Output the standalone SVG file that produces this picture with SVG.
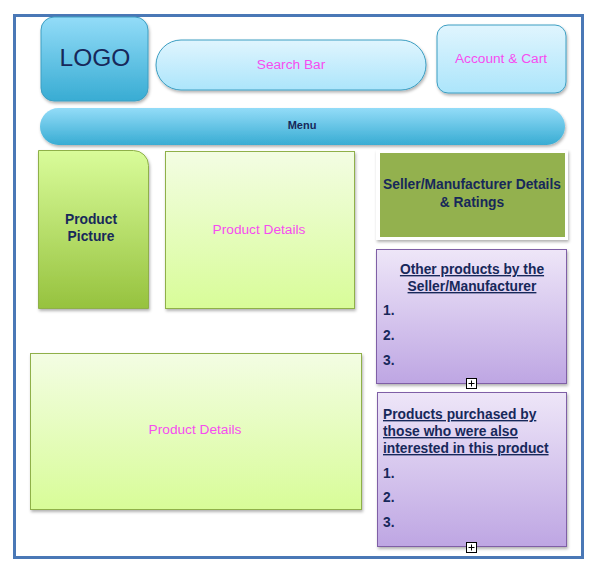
<svg xmlns="http://www.w3.org/2000/svg" width="602" height="569" viewBox="0 0 602 569">
<defs>
<linearGradient id="blue" x1="0" y1="0" x2="0" y2="1"><stop offset="0" stop-color="#93dcf8"/><stop offset="1" stop-color="#38acd3"/></linearGradient>
<linearGradient id="lblue" x1="0" y1="0" x2="0" y2="1"><stop offset="0" stop-color="#e0f5fe"/><stop offset="1" stop-color="#ace5fb"/></linearGradient>
<linearGradient id="green" x1="0" y1="0" x2="0" y2="1"><stop offset="0" stop-color="#d9fc9a"/><stop offset="1" stop-color="#96c23e"/></linearGradient>
<linearGradient id="lgreen" x1="0" y1="0" x2="0" y2="1"><stop offset="0" stop-color="#f3fde3"/><stop offset="1" stop-color="#d8fc98"/></linearGradient>
<linearGradient id="purple" x1="0" y1="0" x2="0" y2="1"><stop offset="0" stop-color="#eee6f8"/><stop offset="1" stop-color="#bea6e3"/></linearGradient>
<filter id="sh" x="-10%" y="-10%" width="125%" height="130%"><feDropShadow dx="1" dy="2" stdDeviation="1.5" flood-color="#000" flood-opacity="0.3"/></filter>
</defs>
<style>
.t{font-family:"Liberation Sans",Arial,sans-serif}
.mag{fill:#f64cf0;font-size:13.7px;text-anchor:middle}
.dk{fill:#17285a;font-weight:bold;font-size:13.8px}
.c{text-anchor:middle}
.bs{stroke:#3c9ec2;stroke-width:1}
.gs{stroke:#8fb04a;stroke-width:1}
.ps{stroke:#7f5fa6;stroke-width:1}
</style>
<rect x="14.5" y="15.5" width="568" height="542" fill="#fff" stroke="#4a78b6" stroke-width="3"/>
<g id="logo"><rect x="41" y="17" width="107" height="84" rx="13" fill="url(#blue)" class="bs" filter="url(#sh)"/><text class="t" x="95" y="66" font-size="24.5" fill="#17285a" text-anchor="middle">LOGO</text></g>
<g id="search"><rect x="156" y="40" width="270" height="50" rx="25" fill="url(#lblue)" class="bs" filter="url(#sh)"/><text class="t mag" x="291" y="69">Search Bar</text></g>
<g id="account"><rect x="437" y="25" width="129" height="68" rx="11" fill="url(#lblue)" class="bs" filter="url(#sh)"/><text class="t mag" x="501" y="63">Account &amp; Cart</text></g>
<g id="menu"><rect x="40" y="108" width="525" height="37" rx="18.5" fill="url(#blue)" filter="url(#sh)"/><text class="t c" x="302" y="129" font-size="11" font-weight="bold" fill="#17285a">Menu</text></g>
<g id="picture"><path d="M38.5,150.5 H133.5 A15,15 0 0 1 148.5,165.5 V308.5 H38.5 Z" fill="url(#green)" class="gs" filter="url(#sh)"/><text class="t dk c" x="91" y="224">Product</text><text class="t dk c" x="91" y="241">Picture</text></g>
<g id="details1"><rect x="165.5" y="151.5" width="189" height="157" fill="url(#lgreen)" class="gs" filter="url(#sh)"/><text class="t mag" x="259" y="234">Product Details</text></g>
<g id="seller"><rect x="376" y="150" width="192" height="90" fill="#fff" filter="url(#sh)"/><rect x="380" y="153" width="185" height="84" fill="#93b14e"/><text class="t dk c" x="472" y="189">Seller/Manufacturer Details</text><text class="t dk c" x="472" y="207">&amp; Ratings</text></g>
<g id="other"><rect x="376.5" y="249.5" width="190" height="134" fill="url(#purple)" class="ps" filter="url(#sh)"/><text class="t dk c" x="472" y="274" text-decoration="underline">Other products by the</text><text class="t dk c" x="472" y="291" text-decoration="underline">Seller/Manufacturer</text><text class="t dk" x="383" y="315">1.</text><text class="t dk" x="383" y="340">2.</text><text class="t dk" x="383" y="365">3.</text><rect x="466.5" y="378.5" width="10" height="10" fill="#fff" stroke="#000"/><path d="M471.5,380.5 V386.5 M468.5,383.5 H474.5" stroke="#000"/></g>
<g id="purchased"><rect x="377.5" y="392.5" width="189" height="154" fill="url(#purple)" class="ps" filter="url(#sh)"/><text class="t dk" x="383" y="419" text-decoration="underline">Products purchased by</text><text class="t dk" x="383" y="436" text-decoration="underline">those who were also</text><text class="t dk" x="383" y="453" text-decoration="underline">interested in this product</text><text class="t dk" x="383" y="478">1.</text><text class="t dk" x="383" y="502">2.</text><text class="t dk" x="383" y="527">3.</text><rect x="466.5" y="542.5" width="10" height="10" fill="#fff" stroke="#000"/><path d="M471.5,544.5 V550.5 M468.5,547.5 H474.5" stroke="#000"/></g>
<g id="details2"><rect x="30.5" y="353.5" width="331" height="156" fill="url(#lgreen)" class="gs" filter="url(#sh)"/><text class="t mag" x="195" y="434">Product Details</text></g>
<g id="connectors"/>
</svg>
